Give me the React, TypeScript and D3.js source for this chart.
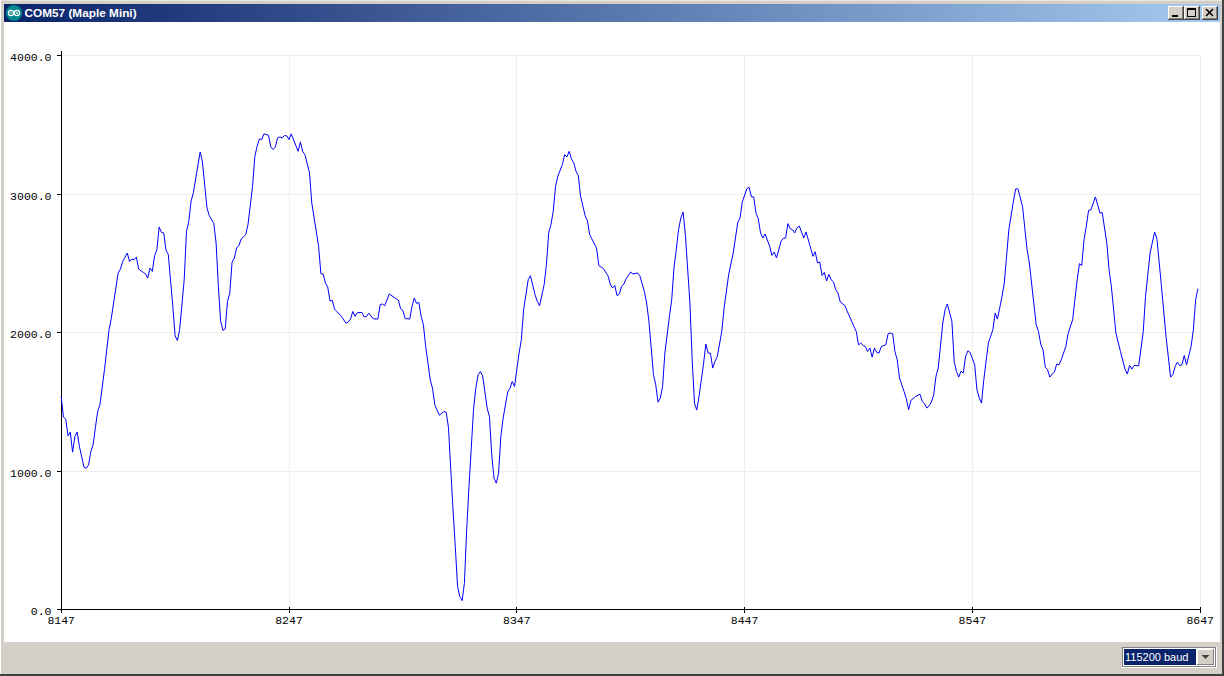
import React from 'react'
import * as d3 from 'd3'

const width = 1224
const height = 676

const titleText = 'COM57 (Maple Mini)'
const baudText = '115200 baud'
const firstSample = 8147

const yTicks = [0, 1000, 2000, 3000, 4000]
const xTicks = [8147, 8247, 8347, 8447, 8547, 8647]

// samples after firstSample
const sampleOffsets = [
  0, 1, 2, 3, 4, 5, 6, 7, 8, 10, 11, 12, 13, 14, 15, 16, 17, 19, 21, 22, 23, 25, 26, 27, 29, 30, 31, 32, 33, 34,
  36, 37, 38, 39, 40, 41, 42, 43, 44, 45, 46, 47, 49, 50, 51, 52, 54, 55, 56, 57, 58, 61, 62, 64, 65, 67, 68, 69, 70, 71,
  72, 73, 74, 75, 76, 77, 78, 79, 81, 82, 84, 85, 86, 87, 88, 89, 91, 92, 93, 94, 95, 96, 97, 98, 99, 100, 101, 104, 105, 106,
  107, 109, 110, 113, 114, 115, 116, 117, 118, 119, 120, 121, 123, 125, 126, 127, 128, 129, 130, 132, 133, 134, 135, 137, 139, 140, 141, 142, 144, 147,
  148, 149, 150, 151, 153, 154, 155, 156, 157, 158, 159, 160, 161, 162, 163, 164, 166, 168, 169, 170, 172, 173, 174, 175, 176, 177, 178, 179, 181, 182,
  183, 184, 185, 187, 188, 189, 190, 191, 192, 193, 194, 196, 197, 198, 199, 201, 202, 203, 205, 206, 208, 209, 210, 212, 213, 214, 215, 216, 217, 218,
  220, 221, 222, 223, 224, 225, 226, 227, 228, 230, 231, 232, 235, 236, 238, 240, 241, 242, 243, 244, 245, 246, 247, 248, 250, 251, 253, 254, 256, 257,
  258, 260, 261, 262, 263, 264, 265, 267, 268, 269, 270, 271, 272, 273, 274, 276, 277, 278, 279, 280, 282, 283, 284, 285, 286, 287, 288, 290, 291, 293,
  295, 297, 298, 299, 301, 302, 303, 304, 305, 306, 307, 308, 309, 311, 312, 313, 314, 316, 317, 318, 319, 320, 321, 322, 323, 324, 326, 327, 330, 331,
  332, 333, 334, 335, 336, 337, 338, 339, 340, 341, 342, 344, 345, 348, 349, 350, 351, 352, 353, 354, 355, 356, 357, 358, 359, 360, 362, 363, 364, 365,
  366, 367, 368, 370, 371, 372, 373, 375, 377, 378, 379, 380, 381, 382, 383, 384, 385, 387, 388, 389, 391, 392, 393, 394, 395, 396, 397, 398, 399, 401,
  402, 403, 404, 405, 407, 409, 410, 411, 413, 414, 416, 418, 419, 420, 422, 424, 425, 428, 429, 430, 431, 432, 433, 434, 435, 436, 437, 438, 439, 441,
  442, 444, 446, 447, 448, 449, 450, 451, 452, 454, 456, 457, 459, 460, 461, 463, 465, 467, 468, 469, 470, 471, 473, 475, 476, 478, 480, 481, 483, 485,
  487, 488, 489, 490, 491, 492, 493, 494, 496, 497, 498, 499,
]

const readings = [
  1538, 1389, 1374, 1254, 1281, 1136, 1249, 1281, 1176, 1028, 1020, 1044, 1140, 1189, 1312, 1429, 1478, 1731, 2020, 2104, 2213, 2430, 2458, 2513, 2574, 2513, 2531, 2526, 2545, 2458,
  2434, 2424, 2393, 2466, 2441, 2555, 2598, 2762, 2723, 2719, 2593, 2564, 2188, 1976, 1942, 2020, 2381, 2730, 2802, 2947, 3008, 3304, 3232, 2899, 2844, 2786, 2646, 2333, 2080, 2015,
  2027, 2224, 2285, 2506, 2538, 2610, 2627, 2675, 2706, 2779, 3055, 3272, 3344, 3398, 3393, 3434, 3424, 3340, 3321, 3340, 3405, 3412, 3405, 3422, 3420, 3393, 3434, 3308, 3376, 3308,
  3284, 3152, 2935, 2622, 2424, 2422, 2357, 2328, 2227, 2232, 2169, 2152, 2116, 2068, 2075, 2097, 2152, 2116, 2143, 2145, 2112, 2116, 2140, 2099, 2097, 2200, 2206, 2193, 2278, 2244,
  2234, 2172, 2159, 2101, 2097, 2188, 2249, 2210, 2217, 2116, 2056, 1899, 1779, 1658, 1598, 1478, 1403, 1429, 1425, 1314, 719, 454, 165, 92, 64, 189, 575, 887, 1442, 1598,
  1695, 1718, 1687, 1454, 1393, 1116, 948, 912, 984, 1249, 1382, 1570, 1598, 1646, 1610, 1851, 1948, 2164, 2381, 2410, 2273, 2224, 2193, 2345, 2490, 2719, 2779, 2875, 3055, 3128,
  3212, 3284, 3268, 3308, 3253, 3224, 3164, 3133, 2983, 2844, 2807, 2706, 2610, 2484, 2461, 2410, 2350, 2321, 2340, 2266, 2278, 2333, 2350, 2388, 2437, 2422, 2430, 2410, 2297, 2213,
  2080, 1695, 1622, 1497, 1526, 1610, 1851, 2116, 2237, 2466, 2598, 2742, 2827, 2870, 2706, 2213, 1803, 1490, 1440, 1538, 1779, 1916, 1851, 1851, 1743, 1791, 1827, 2008, 2177, 2417,
  2574, 2795, 2827, 2943, 3039, 3048, 2979, 2979, 2862, 2822, 2719, 2682, 2711, 2622, 2557, 2581, 2538, 2658, 2680, 2682, 2786, 2750, 2742, 2719, 2755, 2769, 2682, 2726, 2550, 2583,
  2502, 2509, 2412, 2434, 2372, 2419, 2381, 2365, 2309, 2285, 2220, 2195, 2155, 2044, 2008, 1911, 1924, 1906, 1899, 1863, 1888, 1822, 1888, 1856, 1851, 1899, 1911, 1991, 1996, 1991,
  1863, 1803, 1671, 1574, 1521, 1442, 1509, 1538, 1555, 1502, 1485, 1454, 1471, 1497, 1550, 1682, 1743, 2068, 2164, 2206, 2080, 1791, 1718, 1678, 1721, 1707, 1827, 1868, 1856, 1767,
  1586, 1528, 1490, 1658, 1924, 2020, 2140, 2097, 2260, 2357, 2742, 2947, 3037, 3037, 2911, 2598, 2502, 2056, 2008, 1916, 1875, 1750, 1731, 1678, 1700, 1714, 1772, 1767, 1803, 1899,
  1991, 2092, 2381, 2497, 2484, 2670, 2766, 2882, 2885, 2979, 2863, 2865, 2646, 2453, 2333, 1996, 1863, 1736, 1700, 1762, 1736, 1762, 1760, 2008, 2260, 2574, 2726, 2677, 2333, 1971,
  1678, 1695, 1755, 1786, 1760, 1767, 1834, 1767, 1899, 2020, 2237, 2316,
]

const series = sampleOffsets.map((offset, i) => ({ sample: firstSample + offset, value: readings[i] }))

const x = d3.scaleLinear().domain([8147, 8647]).range([61.2, 1200.2])
const y = d3.scaleLinear().domain([0, 4000]).range([609.5, 55.5])

const plotLine = d3
  .line<{ sample: number; value: number }>()
  .x((d) => x(d.sample))
  .y((d) => y(d.value))

const monoFont = '"Liberation Mono", monospace'
const uiFont = '"Liberation Sans", sans-serif'

function WinButton({ left, children }: { left: number; children?: React.ReactNode }) {
  return (
    <g transform={`translate(${left},6)`}>
      <rect x={0} y={0} width={16} height={14} fill="#404040" />
      <rect x={0} y={0} width={15} height={13} fill="#ffffff" />
      <rect x={1} y={1} width={14} height={12} fill="#808080" />
      <rect x={1} y={1} width={13} height={11} fill="#d4d0c8" />
      {children}
    </g>
  )
}

export default function App() {
  return (
    <svg width={width} height={height} style={{ position: 'fixed', left: 0, top: 0, display: 'block' }}>
      <defs>
        <linearGradient id="title-grad" x1="0" x2="1" y1="0" y2="0">
          <stop offset="0" stopColor="#0a246a" />
          <stop offset="1" stopColor="#a6caf0" />
        </linearGradient>
      </defs>

      {/* window frame */}
      <rect x={0} y={0} width={width} height={height} fill="#d4d0c8" />
      <rect x={0} y={0} width={width} height={1} fill="#e8e6e0" />
      <rect x={0} y={0} width={1} height={height} fill="#ffffff" />
      <rect x={1222} y={0} width={2} height={height} fill="#404040" />
      <rect x={0} y={674} width={width} height={2} fill="#404040" />
      <rect x={4} y={4} width={1216} height={18} fill="url(#title-grad)" />
      <rect x={4} y={22} width={1216} height={620} fill="#ffffff" />

      {/* title bar */}
      <circle cx={14} cy={13} r={8} fill="#00878f" />
      <circle cx={11} cy={13} r={2.6} fill="none" stroke="#ffffff" strokeWidth={1.2} />
      <circle cx={17} cy={13} r={2.6} fill="none" stroke="#ffffff" strokeWidth={1.2} />
      <path d="M10,13 H12 M16,13 H18 M17,12 V14" stroke="#ffffff" strokeWidth={0.8} />
      <text x={24.5} y={17} fontFamily={uiFont} fontSize={11.8} fontWeight="bold" fill="#ffffff">
        {titleText}
      </text>
      <WinButton left={1168}>
        <rect x={4} y={9} width={6} height={2} fill="#000000" />
      </WinButton>
      <WinButton left={1184}>
        <rect x={3.5} y={2.5} width={8} height={8} fill="none" stroke="#000000" />
        <rect x={3} y={2} width={9} height={2} fill="#000000" />
      </WinButton>
      <WinButton left={1202}>
        <path d="M4,3 L11,10 M11,3 L4,10" stroke="#000000" strokeWidth={1.6} />
      </WinButton>

      {/* grid */}
      <g stroke="#eeeeee" strokeWidth={1} shapeRendering="crispEdges">
        {yTicks.slice(1).map((t) => (
          <line key={t} x1={x(8147)} x2={x(8647)} y1={y(t)} y2={y(t)} />
        ))}
        {xTicks.slice(1).map((t) => (
          <line key={t} x1={x(t)} x2={x(t)} y1={y(4000)} y2={y(0)} />
        ))}
      </g>

      {/* axes */}
      <g stroke="#000000" strokeWidth={1} shapeRendering="crispEdges">
        <line x1={x(8147)} x2={x(8147)} y1={51} y2={612} />
        <line x1={x(8147)} x2={x(8647)} y1={y(0)} y2={y(0)} />
        {yTicks.map((t) => (
          <line key={t} x1={57} x2={x(8147)} y1={y(t)} y2={y(t)} />
        ))}
        {xTicks.map((t) => (
          <line key={t} x1={x(t)} x2={x(t)} y1={y(0) - 3} y2={y(0) + 3} />
        ))}
      </g>
      <g fontFamily={monoFont} fontSize={11.5} fill="#000000">
        {yTicks.map((t) => (
          <text key={t} x={51.5} y={y(t) + 5.5} textAnchor="end">
            {t.toFixed(1)}
          </text>
        ))}
        {xTicks.map((t) => (
          <text key={t} x={x(t)} y={624} textAnchor="middle">
            {t}
          </text>
        ))}
      </g>

      <path d={plotLine(series) ?? ''} fill="none" stroke="#0000ff" strokeWidth={1} strokeLinejoin="round" />

      {/* baud selector */}
      <rect x={1122} y={647} width={95} height={21} fill="#ffffff" />
      <rect x={1122} y={647} width={94} height={20} fill="#808080" />
      <rect x={1123} y={648} width={92} height={18} fill="#ffffff" />
      <rect x={1124} y={649} width={72} height={16} fill="#0a246a" />
      <text x={1125} y={661} fontFamily={uiFont} fontSize={11} fill="#ffffff">
        {baudText}
      </text>
      <rect x={1197} y={649} width={17} height={16} fill="#808080" />
      <rect x={1197} y={649} width={16} height={15} fill="#ffffff" />
      <rect x={1198} y={650} width={15} height={14} fill="#d4d0c8" />
      <path d="M1201.5,655 L1209.5,655 L1205.5,659 Z" fill="#404040" />
    </svg>
  )
}
